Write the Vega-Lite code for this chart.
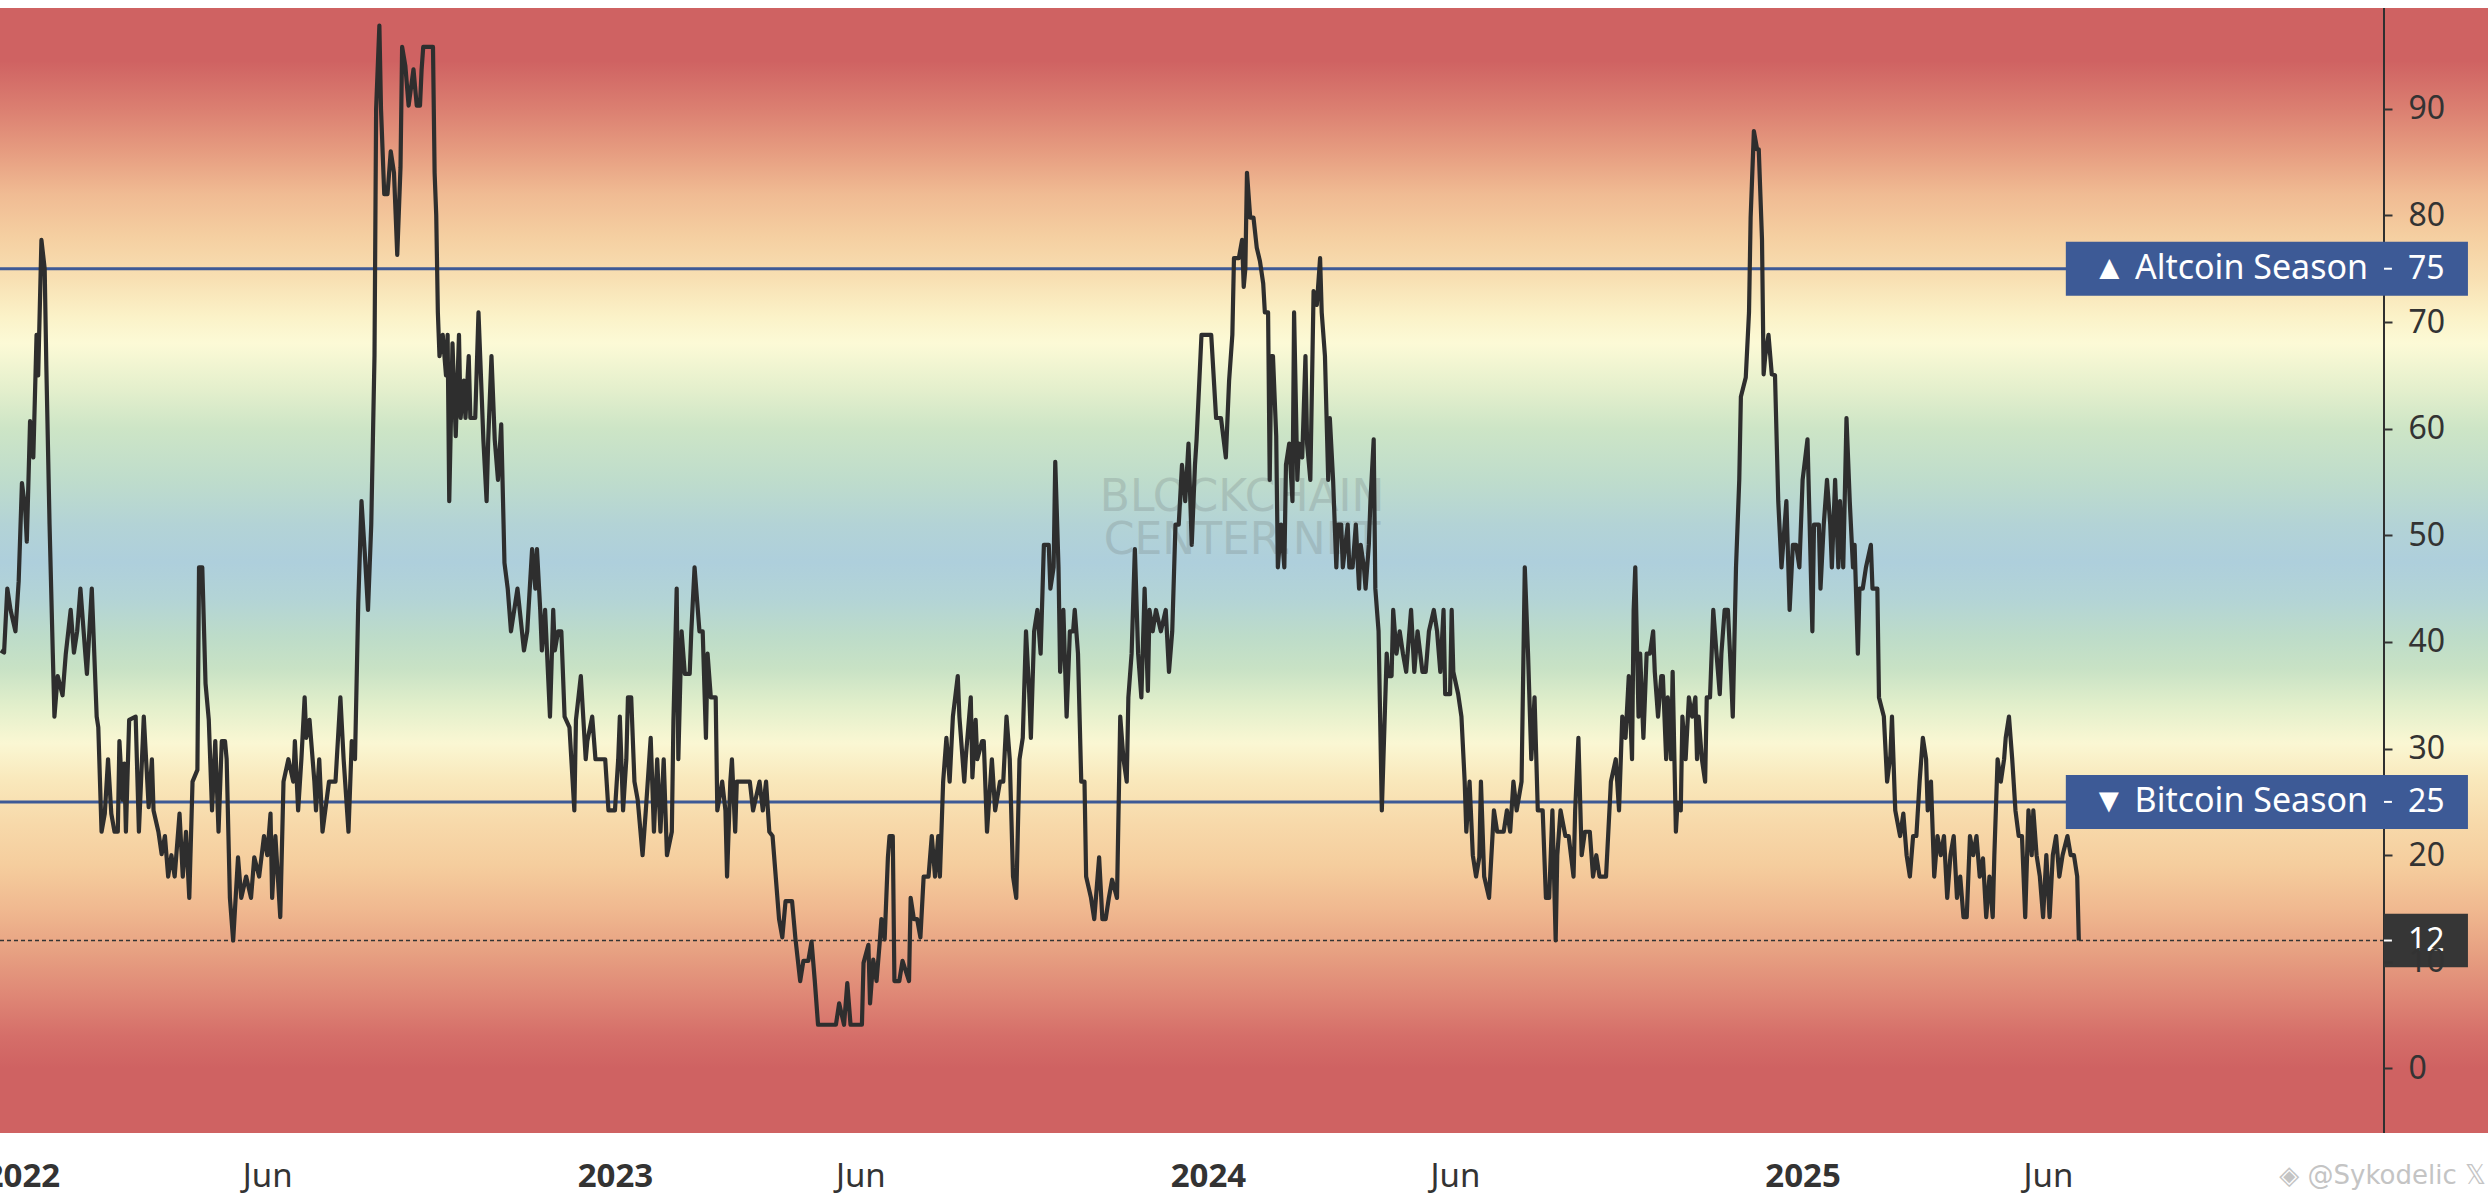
{
"$schema": "https://vega.github.io/schema/vega-lite/v6.json",
"width": 2384, "height": 1125,
"autosize": {"type": "none"},
"padding": {"top": 8, "left": 0, "right": 104, "bottom": 71},
"background": "white",
"config": {"view": {"stroke": null}, "font": "Noto Sans"},
"datasets": {
"one": [{}],
"levels": [{"level": 75, "name": "▲ Altcoin Season"}, {"level": 25, "name": "▼ Bitcoin Season"}],
"idx": [
{"date":"2021-12-19","value":39.2},{"date":"2021-12-21","value":39},{"date":"2021-12-23","value":45},{"date":"2021-12-25","value":43},{"date":"2021-12-28","value":41},{"date":"2021-12-30","value":45.7},
{"date":"2022-01-01","value":54.9},{"date":"2022-01-03","value":52.5},{"date":"2022-01-04","value":49.4},{"date":"2022-01-06","value":60.7},{"date":"2022-01-08","value":57.3},{"date":"2022-01-10","value":68.8},{"date":"2022-01-11","value":65},{"date":"2022-01-13","value":77.7},{"date":"2022-01-15","value":75},{"date":"2022-01-16","value":66},{"date":"2022-01-18","value":51},{"date":"2022-01-20","value":38.9},{"date":"2022-01-21","value":33},{"date":"2022-01-23","value":36.8},{"date":"2022-01-26","value":35},{"date":"2022-01-28","value":38.9},{"date":"2022-01-31","value":43},
{"date":"2022-02-02","value":39},{"date":"2022-02-04","value":41},{"date":"2022-02-06","value":45},{"date":"2022-02-09","value":38.9},{"date":"2022-02-10","value":37},{"date":"2022-02-13","value":45},{"date":"2022-02-16","value":33},{"date":"2022-02-17","value":32},{"date":"2022-02-19","value":22.2},{"date":"2022-02-21","value":23.9},{"date":"2022-02-23","value":29},{"date":"2022-02-25","value":23.9},{"date":"2022-02-27","value":22.2},
{"date":"2022-03-01","value":22.2},{"date":"2022-03-02","value":30.7},{"date":"2022-03-04","value":25.2},{"date":"2022-03-05","value":28.6},{"date":"2022-03-06","value":22.2},{"date":"2022-03-08","value":32.7},{"date":"2022-03-12","value":33},{"date":"2022-03-14","value":22.2},{"date":"2022-03-17","value":33},{"date":"2022-03-20","value":24.5},{"date":"2022-03-22","value":29},{"date":"2022-03-23","value":24.2},{"date":"2022-03-26","value":22.2},{"date":"2022-03-28","value":20.1},{"date":"2022-03-30","value":21.8},
{"date":"2022-04-01","value":18},{"date":"2022-04-03","value":20},{"date":"2022-04-05","value":18},{"date":"2022-04-08","value":23.9},{"date":"2022-04-10","value":18},{"date":"2022-04-12","value":22.2},{"date":"2022-04-14","value":16},{"date":"2022-04-16","value":26.9},{"date":"2022-04-19","value":28},{"date":"2022-04-20","value":47},{"date":"2022-04-22","value":47},{"date":"2022-04-24","value":36.1},{"date":"2022-04-26","value":32.7},{"date":"2022-04-28","value":24.2},{"date":"2022-04-30","value":30.7},
{"date":"2022-05-02","value":22.2},{"date":"2022-05-04","value":30.7},{"date":"2022-05-06","value":30.7},{"date":"2022-05-07","value":29},{"date":"2022-05-09","value":16},{"date":"2022-05-11","value":12},{"date":"2022-05-14","value":19.8},{"date":"2022-05-16","value":16},{"date":"2022-05-19","value":18},{"date":"2022-05-22","value":16},{"date":"2022-05-24","value":19.8},{"date":"2022-05-27","value":18},{"date":"2022-05-30","value":21.8},
{"date":"2022-06-01","value":20},{"date":"2022-06-03","value":23.9},{"date":"2022-06-04","value":16},{"date":"2022-06-06","value":21.8},{"date":"2022-06-09","value":14.2},{"date":"2022-06-11","value":26.9},{"date":"2022-06-14","value":29},{"date":"2022-06-17","value":26.9},{"date":"2022-06-18","value":30.7},{"date":"2022-06-20","value":24.2},{"date":"2022-06-22","value":29},{"date":"2022-06-24","value":34.8},{"date":"2022-06-25","value":31},{"date":"2022-06-27","value":32.7},{"date":"2022-06-30","value":26.9},
{"date":"2022-07-01","value":24.2},{"date":"2022-07-03","value":29},{"date":"2022-07-05","value":22.2},{"date":"2022-07-09","value":26.9},{"date":"2022-07-13","value":26.9},{"date":"2022-07-16","value":34.8},{"date":"2022-07-18","value":29},{"date":"2022-07-21","value":22.2},{"date":"2022-07-23","value":30.7},{"date":"2022-07-25","value":29},{"date":"2022-07-27","value":43.6},{"date":"2022-07-29","value":53.2},{"date":"2022-07-31","value":48.4},
{"date":"2022-08-02","value":43},{"date":"2022-08-04","value":51},{"date":"2022-08-06","value":66.8},{"date":"2022-08-07","value":90},{"date":"2022-08-09","value":97.8},{"date":"2022-08-10","value":90},{"date":"2022-08-12","value":82},{"date":"2022-08-14","value":82},{"date":"2022-08-16","value":86},{"date":"2022-08-18","value":84},{"date":"2022-08-20","value":76.3},{"date":"2022-08-22","value":84.5},{"date":"2022-08-23","value":95.8},{"date":"2022-08-25","value":94},{"date":"2022-08-27","value":90.3},{"date":"2022-08-30","value":93.7},
{"date":"2022-09-01","value":90.3},{"date":"2022-09-03","value":90.3},{"date":"2022-09-04","value":93.7},{"date":"2022-09-05","value":95.8},{"date":"2022-09-11","value":95.8},{"date":"2022-09-12","value":84},{"date":"2022-09-13","value":80},{"date":"2022-09-14","value":70.9},{"date":"2022-09-15","value":66.8},{"date":"2022-09-17","value":68.8},{"date":"2022-09-19","value":65},{"date":"2022-09-20","value":68.8},{"date":"2022-09-21","value":53.2},{"date":"2022-09-23","value":68},{"date":"2022-09-25","value":59.3},{"date":"2022-09-27","value":68.8},{"date":"2022-09-28","value":61},{"date":"2022-09-30","value":64.5},
{"date":"2022-10-01","value":61},{"date":"2022-10-03","value":66.8},{"date":"2022-10-04","value":61},{"date":"2022-10-07","value":61},{"date":"2022-10-09","value":70.9},{"date":"2022-10-11","value":63},{"date":"2022-10-12","value":59},{"date":"2022-10-14","value":53.2},{"date":"2022-10-15","value":59},{"date":"2022-10-17","value":66.8},{"date":"2022-10-19","value":59},{"date":"2022-10-21","value":55.2},{"date":"2022-10-23","value":60.4},{"date":"2022-10-25","value":47.4},{"date":"2022-10-27","value":45},{"date":"2022-10-29","value":41},{"date":"2022-10-31","value":43},
{"date":"2022-11-02","value":45},{"date":"2022-11-06","value":39.2},{"date":"2022-11-08","value":41},{"date":"2022-11-11","value":48.7},{"date":"2022-11-13","value":45},{"date":"2022-11-14","value":48.7},{"date":"2022-11-16","value":43},{"date":"2022-11-17","value":39.2},{"date":"2022-11-19","value":43},{"date":"2022-11-22","value":33},{"date":"2022-11-24","value":43},{"date":"2022-11-25","value":39.2},{"date":"2022-11-27","value":41},{"date":"2022-11-29","value":41},
{"date":"2022-12-01","value":33},{"date":"2022-12-04","value":32},{"date":"2022-12-07","value":24.2},{"date":"2022-12-08","value":32.7},{"date":"2022-12-11","value":36.8},{"date":"2022-12-14","value":29},{"date":"2022-12-15","value":30.7},{"date":"2022-12-18","value":33},{"date":"2022-12-20","value":29},{"date":"2022-12-26","value":29},{"date":"2022-12-28","value":24.2},
{"date":"2023-01-01","value":24.2},{"date":"2023-01-03","value":29},{"date":"2023-01-04","value":33},{"date":"2023-01-06","value":24.2},{"date":"2023-01-08","value":29},{"date":"2023-01-09","value":34.8},{"date":"2023-01-11","value":34.8},{"date":"2023-01-13","value":26.9},{"date":"2023-01-15","value":25.2},{"date":"2023-01-18","value":20},{"date":"2023-01-20","value":24.2},{"date":"2023-01-23","value":31},{"date":"2023-01-25","value":22.2},{"date":"2023-01-27","value":29},{"date":"2023-01-29","value":22.2},{"date":"2023-01-31","value":29},
{"date":"2023-02-02","value":20},{"date":"2023-02-05","value":22.2},{"date":"2023-02-06","value":32.7},{"date":"2023-02-08","value":45},{"date":"2023-02-09","value":29},{"date":"2023-02-11","value":41},{"date":"2023-02-13","value":37},{"date":"2023-02-16","value":37},{"date":"2023-02-17","value":41},{"date":"2023-02-19","value":47},{"date":"2023-02-22","value":41},{"date":"2023-02-24","value":41},{"date":"2023-02-26","value":31},{"date":"2023-02-27","value":38.9},
{"date":"2023-03-01","value":34.8},{"date":"2023-03-04","value":34.8},{"date":"2023-03-05","value":24.2},{"date":"2023-03-08","value":26.9},{"date":"2023-03-10","value":24.2},{"date":"2023-03-11","value":18},{"date":"2023-03-13","value":26.9},{"date":"2023-03-14","value":29},{"date":"2023-03-16","value":22.2},{"date":"2023-03-17","value":26.9},{"date":"2023-03-25","value":26.9},{"date":"2023-03-27","value":24.2},{"date":"2023-03-31","value":26.9},
{"date":"2023-04-02","value":24.2},{"date":"2023-04-04","value":26.9},{"date":"2023-04-06","value":22.2},{"date":"2023-04-08","value":21.8},{"date":"2023-04-12","value":14},{"date":"2023-04-14","value":12.3},{"date":"2023-04-16","value":15.7},{"date":"2023-04-20","value":15.7},{"date":"2023-04-22","value":12.3},{"date":"2023-04-25","value":8.2},{"date":"2023-04-27","value":10.1},{"date":"2023-04-30","value":10.1},
{"date":"2023-05-02","value":11.9},{"date":"2023-05-04","value":8.2},{"date":"2023-05-06","value":4.1},{"date":"2023-05-17","value":4.1},{"date":"2023-05-19","value":6.1},{"date":"2023-05-22","value":4.1},{"date":"2023-05-24","value":8},{"date":"2023-05-26","value":4.1},
{"date":"2023-06-02","value":4.1},{"date":"2023-06-03","value":9.9},{"date":"2023-06-06","value":11.6},{"date":"2023-06-07","value":6.1},{"date":"2023-06-09","value":10.2},{"date":"2023-06-11","value":8.2},{"date":"2023-06-13","value":11.9},{"date":"2023-06-14","value":14},{"date":"2023-06-16","value":12.1},{"date":"2023-06-18","value":19.8},{"date":"2023-06-19","value":21.8},{"date":"2023-06-21","value":21.8},{"date":"2023-06-22","value":8.2},{"date":"2023-06-25","value":8.2},{"date":"2023-06-27","value":10.1},
{"date":"2023-07-01","value":8.2},{"date":"2023-07-02","value":16},{"date":"2023-07-04","value":14},{"date":"2023-07-06","value":14},{"date":"2023-07-08","value":12.3},{"date":"2023-07-10","value":18},{"date":"2023-07-13","value":18},{"date":"2023-07-15","value":21.8},{"date":"2023-07-17","value":18},{"date":"2023-07-19","value":21.8},{"date":"2023-07-20","value":18},{"date":"2023-07-22","value":26.9},{"date":"2023-07-24","value":31},{"date":"2023-07-26","value":26.9},{"date":"2023-07-28","value":33},{"date":"2023-07-31","value":36.8},
{"date":"2023-08-01","value":33},{"date":"2023-08-04","value":26.9},{"date":"2023-08-05","value":29.3},{"date":"2023-08-08","value":34.8},{"date":"2023-08-09","value":27.3},{"date":"2023-08-11","value":32.7},{"date":"2023-08-12","value":29},{"date":"2023-08-15","value":30.7},{"date":"2023-08-16","value":30.7},{"date":"2023-08-18","value":22.2},{"date":"2023-08-21","value":29},{"date":"2023-08-23","value":24.2},{"date":"2023-08-26","value":26.9},{"date":"2023-08-28","value":26.9},{"date":"2023-08-30","value":33},
{"date":"2023-09-01","value":29},{"date":"2023-09-03","value":18},{"date":"2023-09-05","value":16},{"date":"2023-09-07","value":29},{"date":"2023-09-09","value":31},{"date":"2023-09-11","value":41},{"date":"2023-09-13","value":35.1},{"date":"2023-09-14","value":31},{"date":"2023-09-16","value":41},{"date":"2023-09-18","value":43},{"date":"2023-09-20","value":38.9},{"date":"2023-09-22","value":49.1},{"date":"2023-09-25","value":49.1},{"date":"2023-09-26","value":45},{"date":"2023-09-28","value":47},{"date":"2023-09-29","value":56.9},
{"date":"2023-10-01","value":47},{"date":"2023-10-02","value":37.2},{"date":"2023-10-04","value":43},{"date":"2023-10-06","value":33},{"date":"2023-10-08","value":41},{"date":"2023-10-10","value":41},{"date":"2023-10-11","value":43},{"date":"2023-10-13","value":38.9},{"date":"2023-10-15","value":26.9},{"date":"2023-10-17","value":26.9},{"date":"2023-10-18","value":18},{"date":"2023-10-21","value":16},{"date":"2023-10-23","value":14},{"date":"2023-10-26","value":19.8},{"date":"2023-10-28","value":14},{"date":"2023-10-30","value":14},
{"date":"2023-11-01","value":16},{"date":"2023-11-03","value":17.7},{"date":"2023-11-06","value":16},{"date":"2023-11-08","value":33},{"date":"2023-11-10","value":29},{"date":"2023-11-12","value":26.9},{"date":"2023-11-13","value":34.8},{"date":"2023-11-15","value":38.9},{"date":"2023-11-17","value":48.7},{"date":"2023-11-19","value":38.9},{"date":"2023-11-21","value":34.8},{"date":"2023-11-23","value":45},{"date":"2023-11-25","value":35.4},{"date":"2023-11-26","value":43},{"date":"2023-11-28","value":41},{"date":"2023-11-30","value":43},
{"date":"2023-12-03","value":41},{"date":"2023-12-06","value":43},{"date":"2023-12-08","value":37.2},{"date":"2023-12-10","value":41},{"date":"2023-12-12","value":51},{"date":"2023-12-14","value":51},{"date":"2023-12-16","value":56.6},{"date":"2023-12-18","value":53.2},{"date":"2023-12-20","value":58.6},{"date":"2023-12-22","value":49.1},{"date":"2023-12-24","value":56.6},{"date":"2023-12-25","value":59},{"date":"2023-12-28","value":68.8},
{"date":"2024-01-03","value":68.8},{"date":"2024-01-06","value":61},{"date":"2024-01-09","value":61},{"date":"2024-01-12","value":57.3},{"date":"2024-01-14","value":64.5},{"date":"2024-01-16","value":68.8},{"date":"2024-01-17","value":76},{"date":"2024-01-20","value":76},{"date":"2024-01-22","value":77.7},{"date":"2024-01-23","value":73.3},{"date":"2024-01-24","value":75},{"date":"2024-01-25","value":84},{"date":"2024-01-27","value":79.8},{"date":"2024-01-29","value":79.8},{"date":"2024-01-31","value":77},
{"date":"2024-02-02","value":75.7},{"date":"2024-02-04","value":73.6},{"date":"2024-02-05","value":70.9},{"date":"2024-02-07","value":70.9},{"date":"2024-02-08","value":55.2},{"date":"2024-02-09","value":66.8},{"date":"2024-02-10","value":66.8},{"date":"2024-02-12","value":59.3},{"date":"2024-02-13","value":47},{"date":"2024-02-15","value":51},{"date":"2024-02-17","value":47},{"date":"2024-02-18","value":56.6},{"date":"2024-02-20","value":58.6},{"date":"2024-02-22","value":53.2},{"date":"2024-02-23","value":70.9},{"date":"2024-02-25","value":55.2},{"date":"2024-02-26","value":58.6},{"date":"2024-02-28","value":57.3},
{"date":"2024-03-01","value":66.8},{"date":"2024-03-02","value":58.6},{"date":"2024-03-04","value":55.2},{"date":"2024-03-06","value":72.9},{"date":"2024-03-08","value":71.6},{"date":"2024-03-10","value":76},{"date":"2024-03-11","value":70.9},{"date":"2024-03-13","value":66.8},{"date":"2024-03-15","value":55.2},{"date":"2024-03-16","value":61},{"date":"2024-03-18","value":55.2},{"date":"2024-03-20","value":47},{"date":"2024-03-21","value":51},{"date":"2024-03-23","value":51},{"date":"2024-03-24","value":47},{"date":"2024-03-27","value":51},{"date":"2024-03-28","value":47},{"date":"2024-03-30","value":47},
{"date":"2024-04-01","value":51},{"date":"2024-04-03","value":45},{"date":"2024-04-04","value":49.1},{"date":"2024-04-06","value":47},{"date":"2024-04-07","value":45},{"date":"2024-04-09","value":49.1},{"date":"2024-04-10","value":53.2},{"date":"2024-04-12","value":59},{"date":"2024-04-13","value":45},{"date":"2024-04-15","value":41},{"date":"2024-04-17","value":24.2},{"date":"2024-04-20","value":38.9},{"date":"2024-04-21","value":36.8},{"date":"2024-04-23","value":36.8},{"date":"2024-04-24","value":43},{"date":"2024-04-26","value":38.9},{"date":"2024-04-28","value":41},{"date":"2024-04-30","value":38.9},
{"date":"2024-05-02","value":37.2},{"date":"2024-05-05","value":43},{"date":"2024-05-07","value":37.2},{"date":"2024-05-09","value":41},{"date":"2024-05-12","value":37.2},{"date":"2024-05-14","value":37.2},{"date":"2024-05-16","value":41},{"date":"2024-05-19","value":43},{"date":"2024-05-21","value":41},{"date":"2024-05-23","value":37.2},{"date":"2024-05-25","value":43},{"date":"2024-05-26","value":35.1},{"date":"2024-05-29","value":35.1},{"date":"2024-05-30","value":43},{"date":"2024-05-31","value":37.2},
{"date":"2024-06-03","value":35.1},{"date":"2024-06-05","value":33},{"date":"2024-06-07","value":26.9},{"date":"2024-06-08","value":22.2},{"date":"2024-06-10","value":26.9},{"date":"2024-06-12","value":20},{"date":"2024-06-14","value":18},{"date":"2024-06-16","value":19.8},{"date":"2024-06-17","value":26.9},{"date":"2024-06-19","value":18},{"date":"2024-06-22","value":16},{"date":"2024-06-25","value":24.2},{"date":"2024-06-27","value":22.2},
{"date":"2024-07-01","value":22.2},{"date":"2024-07-03","value":24.2},{"date":"2024-07-05","value":22.2},{"date":"2024-07-07","value":26.9},{"date":"2024-07-09","value":24.2},{"date":"2024-07-12","value":26.9},{"date":"2024-07-14","value":47},{"date":"2024-07-16","value":38.9},{"date":"2024-07-18","value":29},{"date":"2024-07-20","value":34.8},{"date":"2024-07-22","value":24.2},{"date":"2024-07-25","value":24.2},{"date":"2024-07-27","value":16},{"date":"2024-07-29","value":16},{"date":"2024-07-31","value":24.2},
{"date":"2024-08-02","value":12},{"date":"2024-08-03","value":20},{"date":"2024-08-05","value":24.2},{"date":"2024-08-08","value":21.8},{"date":"2024-08-10","value":21.8},{"date":"2024-08-13","value":18},{"date":"2024-08-14","value":24.2},{"date":"2024-08-16","value":31},{"date":"2024-08-18","value":20},{"date":"2024-08-20","value":22.2},{"date":"2024-08-23","value":22.2},{"date":"2024-08-25","value":18},{"date":"2024-08-27","value":20},{"date":"2024-08-29","value":18},
{"date":"2024-09-02","value":18},{"date":"2024-09-05","value":26.9},{"date":"2024-09-08","value":29},{"date":"2024-09-10","value":24.2},{"date":"2024-09-12","value":33},{"date":"2024-09-14","value":31},{"date":"2024-09-16","value":36.8},{"date":"2024-09-18","value":29},{"date":"2024-09-19","value":43},{"date":"2024-09-20","value":47},{"date":"2024-09-22","value":33},{"date":"2024-09-23","value":38.9},{"date":"2024-09-25","value":31},{"date":"2024-09-27","value":38.9},{"date":"2024-09-29","value":38.9},
{"date":"2024-10-01","value":41},{"date":"2024-10-02","value":37.2},{"date":"2024-10-04","value":33},{"date":"2024-10-06","value":36.8},{"date":"2024-10-07","value":36.8},{"date":"2024-10-09","value":29},{"date":"2024-10-10","value":34.8},{"date":"2024-10-12","value":29},{"date":"2024-10-13","value":37.2},{"date":"2024-10-15","value":22.2},{"date":"2024-10-16","value":24.9},{"date":"2024-10-18","value":24.2},{"date":"2024-10-19","value":33},{"date":"2024-10-21","value":29},{"date":"2024-10-23","value":34.8},{"date":"2024-10-25","value":33},{"date":"2024-10-27","value":34.8},{"date":"2024-10-28","value":29},{"date":"2024-10-29","value":33},{"date":"2024-10-31","value":29},
{"date":"2024-11-02","value":26.9},{"date":"2024-11-03","value":34.8},{"date":"2024-11-05","value":34.8},{"date":"2024-11-07","value":43},{"date":"2024-11-09","value":38.9},{"date":"2024-11-11","value":35.1},{"date":"2024-11-12","value":38.9},{"date":"2024-11-14","value":43},{"date":"2024-11-16","value":43},{"date":"2024-11-18","value":36.8},{"date":"2024-11-19","value":33},{"date":"2024-11-21","value":47},{"date":"2024-11-23","value":55.2},{"date":"2024-11-24","value":63},{"date":"2024-11-27","value":64.8},{"date":"2024-11-29","value":70.9},{"date":"2024-11-30","value":79.8},
{"date":"2024-12-02","value":87.9},{"date":"2024-12-04","value":86.2},{"date":"2024-12-05","value":86.2},{"date":"2024-12-07","value":77.7},{"date":"2024-12-08","value":65.1},{"date":"2024-12-09","value":66.8},{"date":"2024-12-11","value":68.8},{"date":"2024-12-13","value":65.1},{"date":"2024-12-15","value":65},{"date":"2024-12-17","value":53.2},{"date":"2024-12-19","value":47},{"date":"2024-12-22","value":53.2},{"date":"2024-12-24","value":43},{"date":"2024-12-26","value":49.1},{"date":"2024-12-28","value":49.1},{"date":"2024-12-30","value":47},
{"date":"2025-01-01","value":55.2},{"date":"2025-01-04","value":59},{"date":"2025-01-07","value":41},{"date":"2025-01-08","value":51},{"date":"2025-01-11","value":51},{"date":"2025-01-12","value":45},{"date":"2025-01-14","value":51},{"date":"2025-01-16","value":55.2},{"date":"2025-01-18","value":51},{"date":"2025-01-19","value":47},{"date":"2025-01-21","value":55.2},{"date":"2025-01-23","value":47},{"date":"2025-01-24","value":53.2},{"date":"2025-01-26","value":47},{"date":"2025-01-28","value":61},{"date":"2025-01-30","value":53.2},
{"date":"2025-02-01","value":47},{"date":"2025-02-02","value":49.1},{"date":"2025-02-04","value":38.9},{"date":"2025-02-05","value":45},{"date":"2025-02-07","value":45},{"date":"2025-02-09","value":47},{"date":"2025-02-12","value":49.1},{"date":"2025-02-13","value":45},{"date":"2025-02-16","value":45},{"date":"2025-02-17","value":34.8},{"date":"2025-02-20","value":33},{"date":"2025-02-22","value":26.9},{"date":"2025-02-24","value":29.3},{"date":"2025-02-25","value":33},{"date":"2025-02-27","value":24.2},
{"date":"2025-03-02","value":21.8},{"date":"2025-03-04","value":23.9},{"date":"2025-03-06","value":20},{"date":"2025-03-08","value":18},{"date":"2025-03-10","value":21.8},{"date":"2025-03-12","value":21.8},{"date":"2025-03-14","value":26.9},{"date":"2025-03-16","value":31},{"date":"2025-03-18","value":29},{"date":"2025-03-19","value":24.2},{"date":"2025-03-21","value":26.9},{"date":"2025-03-23","value":18},{"date":"2025-03-25","value":21.8},{"date":"2025-03-27","value":20},{"date":"2025-03-29","value":21.8},{"date":"2025-03-31","value":16},
{"date":"2025-04-02","value":20},{"date":"2025-04-04","value":21.8},{"date":"2025-04-06","value":16},{"date":"2025-04-08","value":18},{"date":"2025-04-10","value":14.2},{"date":"2025-04-12","value":14.2},{"date":"2025-04-14","value":21.8},{"date":"2025-04-16","value":20},{"date":"2025-04-18","value":21.8},{"date":"2025-04-20","value":18},{"date":"2025-04-22","value":19.7},{"date":"2025-04-24","value":14.2},{"date":"2025-04-26","value":18},{"date":"2025-04-28","value":14.2},{"date":"2025-04-29","value":20},
{"date":"2025-05-01","value":29},{"date":"2025-05-03","value":26.9},{"date":"2025-05-05","value":29},{"date":"2025-05-06","value":31},{"date":"2025-05-08","value":33},{"date":"2025-05-10","value":29},{"date":"2025-05-12","value":24.2},{"date":"2025-05-14","value":21.8},{"date":"2025-05-16","value":21.8},{"date":"2025-05-18","value":14.2},{"date":"2025-05-20","value":24.2},{"date":"2025-05-22","value":20},{"date":"2025-05-23","value":24.2},{"date":"2025-05-25","value":20},{"date":"2025-05-27","value":18},{"date":"2025-05-29","value":14.2},{"date":"2025-05-31","value":20},
{"date":"2025-06-02","value":14.2},{"date":"2025-06-04","value":20},{"date":"2025-06-06","value":21.8},{"date":"2025-06-08","value":18},{"date":"2025-06-10","value":20},{"date":"2025-06-13","value":21.8},{"date":"2025-06-15","value":20},{"date":"2025-06-17","value":20},{"date":"2025-06-19","value":18},{"date":"2025-06-20","value":12}
]
},
"layer": [
{
"data": {"name": "one"},
"mark": {"type": "rect", "strokeWidth": 0, "fill": {"gradient": "linear", "x1": 0, "y1": 0, "x2": 0, "y2": 1, "stops": [
{"offset": 0, "color": "#cf6262"},{"offset": 0.0469, "color": "#cf6262"},{"offset": 0.0896, "color": "#db7f71"},{"offset": 0.1275, "color": "#e69c80"},{"offset": 0.1654, "color": "#f0bb93"},{"offset": 0.2033, "color": "#f5cfa1"},{"offset": 0.2412, "color": "#f8e0b3"},{"offset": 0.2744, "color": "#fbf2c8"},{"offset": 0.2981, "color": "#fcfad6"},{"offset": 0.336, "color": "#e6f0cd"},{"offset": 0.3739, "color": "#cde5c6"},{"offset": 0.4213, "color": "#bedccc"},{"offset": 0.4592, "color": "#b3d3d6"},{"offset": 0.4924, "color": "#aecfdc"},{"offset": 0.5256, "color": "#b3d4d6"},{"offset": 0.5588, "color": "#bddcc9"},{"offset": 0.5872, "color": "#c8e2c5"},{"offset": 0.6204, "color": "#e2efcb"},{"offset": 0.6536, "color": "#faf7d3"},{"offset": 0.6867, "color": "#f9e8bb"},{"offset": 0.7246, "color": "#f7d9aa"},{"offset": 0.7626, "color": "#f5cd9d"},{"offset": 0.8005, "color": "#f0b990"},{"offset": 0.8384, "color": "#e7a182"},{"offset": 0.8763, "color": "#df8876"},{"offset": 0.9142, "color": "#d56e69"},{"offset": 0.9427, "color": "#cf6262"},{"offset": 1, "color": "#cf6262"}]}},
"encoding": {
"x": {"datum": {"year": 2021, "month": 12, "date": 1, "utc": true}, "type": "temporal", "scale": {"type": "utc", "domain": [{"year": 2021, "month": 12, "date": 18, "hours": 12, "utc": true}, {"year": 2025, "month": 12, "date": 24, "hours": 20, "utc": true}]}},
"x2": {"datum": {"year": 2026, "month": 3, "date": 10, "utc": true}},
"y": {"datum": 99.45, "type": "quantitative", "scale": {"domain": [-6.05, 99.45], "zero": false, "nice": false}},
"y2": {"datum": -6.05}
}
},
{
"data": {"name": "one"},
"mark": {"type": "text", "text": ["BLOCKCHAIN", "CENTER.NET"], "font": "DejaVu Sans", "fontSize": 44, "lineHeight": 43, "align": "center", "baseline": "middle", "fill": "#7d8a8a", "opacity": 0.3},
"encoding": {"x": {"datum": {"year": 2024, "month": 1, "date": 22, "utc": true}, "type": "temporal"}, "y": {"datum": 53.5, "type": "quantitative"}}
},
{
"data": {"name": "levels"},
"mark": {"type": "rule", "color": "#3d5a96", "strokeWidth": 3},
"encoding": {"y": {"field": "level", "type": "quantitative", "title": null}}
},
{
"data": {"name": "one"},
"mark": {"type": "rule", "color": "#333333", "strokeWidth": 1.5, "strokeDash": [4, 3]},
"encoding": {"y": {"datum": 12, "type": "quantitative"}}
},
{
"data": {"name": "idx"},
"mark": {"type": "line", "color": "#2e2e2e", "strokeWidth": 4.2, "strokeJoin": "round"},
"encoding": {
"x": {"field": "date", "type": "temporal", "title": null, "scale": {"type": "utc", "domain": [{"year": 2021, "month": 12, "date": 18, "hours": 12, "utc": true}, {"year": 2025, "month": 12, "date": 24, "hours": 20, "utc": true}]},
"axis": {"orient": "bottom", "domain": false, "ticks": false, "tickSize": 0, "grid": false, "labelFlush": false, "labelOverlap": false, "labelBound": false,
"values": [{"year": 2022, "month": 1, "date": 1, "utc": true}, {"year": 2022, "month": 6, "date": 1, "utc": true}, {"year": 2023, "month": 1, "date": 1, "utc": true}, {"year": 2023, "month": 6, "date": 1, "utc": true}, {"year": 2024, "month": 1, "date": 1, "utc": true}, {"year": 2024, "month": 6, "date": 1, "utc": true}, {"year": 2025, "month": 1, "date": 1, "utc": true}, {"year": 2025, "month": 6, "date": 1, "utc": true}],
"labelExpr": "utcmonth(datum.value) == 0 ? utcFormat(datum.value, '%Y') : utcFormat(datum.value, '%b')",
"labelFontWeight": {"condition": {"test": "utcmonth(datum.value) == 0", "value": "bold"}, "value": "normal"},
"labelFont": "Noto Sans", "labelFontSize": 33, "labelColor": "#333333", "labelPadding": 43, "labelBaseline": "middle", "zindex": 1}},
"y": {"field": "value", "type": "quantitative", "title": null, "scale": {"domain": [-6.05, 99.45], "zero": false, "nice": false},
"axis": {"orient": "right", "values": [0, 10, 20, 30, 40, 50, 60, 70, 80, 90], "grid": false, "domain": false, "ticks": true, "tickSize": 8, "tickWidth": 2, "tickColor": "#333333", "labelFont": "Noto Sans", "labelFontSize": 32, "labelColor": "#333333", "labelPadding": 16, "labelAlign": "left", "labelBaseline": "middle", "labelFlush": false, "labelOverlap": false, "zindex": 1}}
}
},
{
"data": {"name": "one"},
"mark": {"type": "rule", "color": "#2f2f2f", "strokeWidth": 2},
"encoding": {"x": {"datum": {"year": 2025, "month": 12, "date": 24, "hours": 20, "utc": true}, "type": "temporal"}}
},
{
"data": {"name": "one"},
"mark": {"type": "rect", "color": "#3d5a96", "opacity": 1},
"encoding": {"x": {"datum": {"year": 2025, "month": 6, "date": 12, "utc": true}, "type": "temporal"}, "x2": {"datum": {"year": 2026, "month": 2, "date": 14, "hours": 12, "utc": true}}, "y": {"datum": 77.53, "type": "quantitative"}, "y2": {"datum": 72.47}}
},
{
"data": {"name": "one"},
"mark": {"type": "rect", "color": "#3d5a96", "opacity": 1},
"encoding": {"x": {"datum": {"year": 2025, "month": 6, "date": 12, "utc": true}, "type": "temporal"}, "x2": {"datum": {"year": 2026, "month": 2, "date": 14, "hours": 12, "utc": true}}, "y": {"datum": 27.53, "type": "quantitative"}, "y2": {"datum": 22.47}}
},
{
"data": {"name": "one"},
"mark": {"type": "rect", "color": "#363636", "opacity": 1},
"encoding": {"x": {"datum": {"year": 2025, "month": 12, "date": 24, "hours": 20, "utc": true}, "type": "temporal"}, "x2": {"datum": {"year": 2026, "month": 2, "date": 14, "hours": 12, "utc": true}}, "y": {"datum": 14.5, "type": "quantitative"}, "y2": {"datum": 9.5}}
},
{
"data": {"values": [{"level": 75}, {"level": 25}, {"level": 12}]},
"mark": {"type": "rule", "color": "white", "strokeWidth": 2},
"encoding": {"x": {"datum": {"year": 2025, "month": 12, "date": 24, "hours": 20, "utc": true}, "type": "temporal"}, "x2": {"datum": {"year": 2025, "month": 12, "date": 29, "hours": 17, "utc": true}}, "y": {"field": "level", "type": "quantitative", "title": null}}
},
{
"data": {"name": "levels"},
"mark": {"type": "text", "align": "right", "baseline": "middle", "fontSize": 34, "font": "Noto Sans", "color": "white"},
"encoding": {"x": {"datum": {"year": 2025, "month": 12, "date": 15, "utc": true}, "type": "temporal"}, "y": {"field": "level", "type": "quantitative", "title": null}, "text": {"field": "name"}}
},
{
"data": {"values": [{"level": 75}, {"level": 25}, {"level": 12}]},
"mark": {"type": "text", "align": "left", "baseline": "middle", "fontSize": 32, "font": "Noto Sans", "color": "white"},
"encoding": {"x": {"datum": {"year": 2026, "month": 1, "date": 8, "hours": 14, "utc": true}, "type": "temporal"}, "y": {"field": "level", "type": "quantitative", "title": null}, "text": {"field": "level"}}
},
{
"data": {"name": "one"},
"mark": {"type": "text", "text": "◈ @Sykodelic 𝕏", "align": "center", "baseline": "middle", "fontSize": 26, "font": "DejaVu Sans", "color": "#c4c4c4"},
"encoding": {"x": {"datum": {"year": 2025, "month": 12, "date": 24, "utc": true}, "type": "temporal"}, "y": {"datum": -10.1, "type": "quantitative"}}
}
]
}
